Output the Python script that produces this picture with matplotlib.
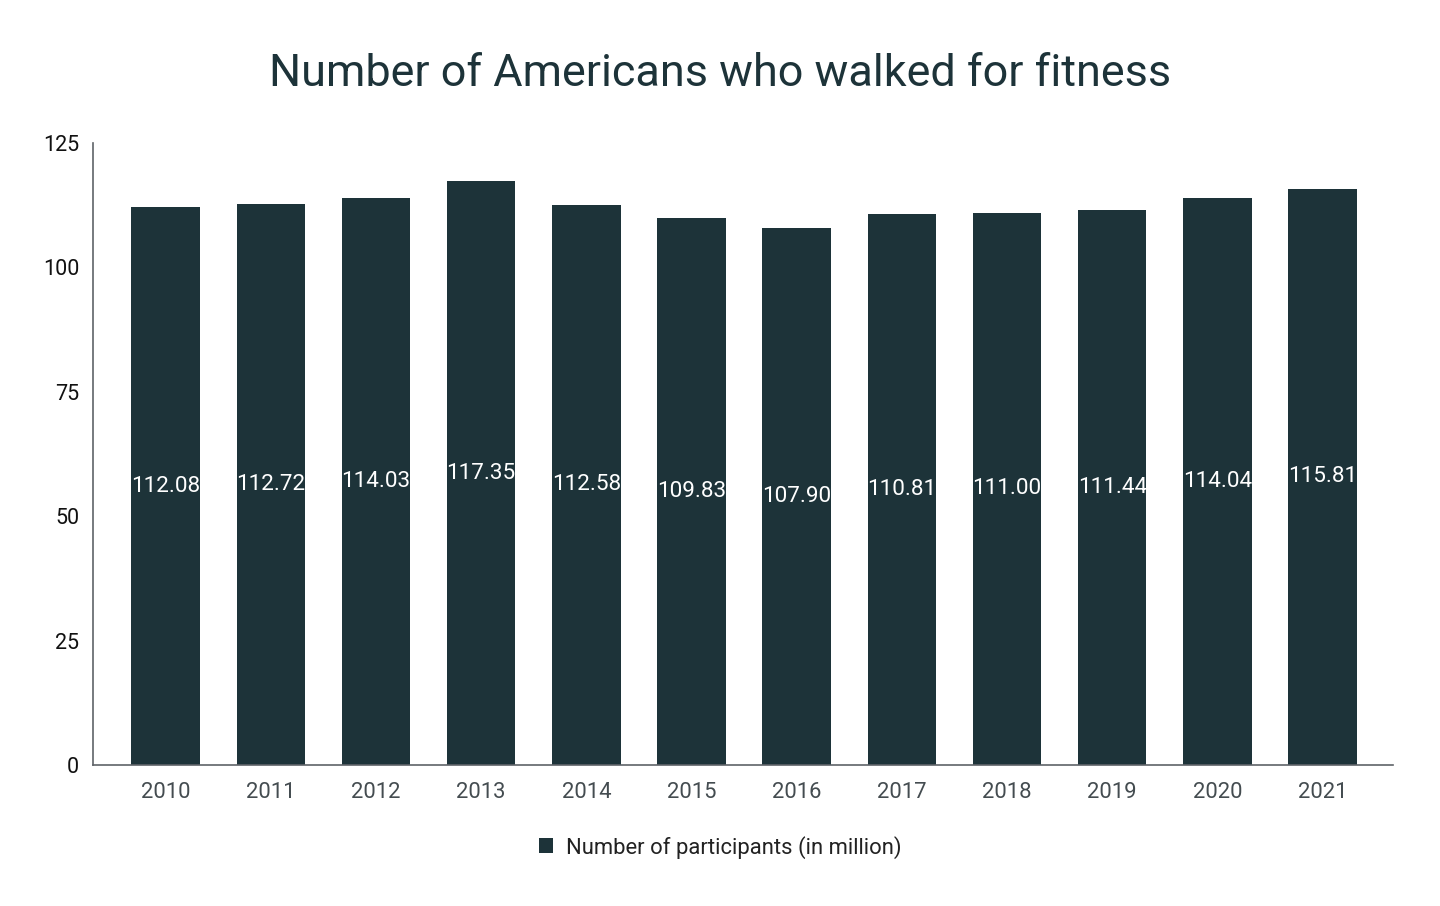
import numpy as np
import matplotlib
matplotlib.use('Agg')
import matplotlib.pyplot as plt

years = ['2010', '2011', '2012', '2013', '2014', '2015',
         '2016', '2017', '2018', '2019', '2020', '2021']
participants = [112.08, 112.72, 114.03, 117.35, 112.58, 109.83,
                107.90, 110.81, 111.00, 111.44, 114.04, 115.81]
yticks = [0, 25, 50, 75, 100, 125]

bar_color = '#1d3339'

plt.rcParams['font.family'] = ['Roboto', 'DejaVu Sans']

def main():
    fig = plt.figure(figsize=(14.4, 9.06), dpi=100)
    ax = fig.add_axes([0.0646, 0.1556, 0.9028, 0.6866])

    x = np.arange(len(years))
    bars = ax.bar(x, participants, width=0.65, color=bar_color,
                  label='Number of participants (in million)', zorder=2)

    # 値ラベルはバーの中央に置く
    for rect, v in zip(bars, participants):
        ax.text(rect.get_x() + rect.get_width() / 2, v / 2, '%.2f' % v,
                ha='center', va='center', color='white', fontsize=16.2)

    ax.set_xlim(-0.69, len(years) - 1 + 0.67)
    ax.set_ylim(0, 125)
    ax.set_yticks(yticks)
    ax.set_xticks(x)
    ax.set_xticklabels(years)

    for side in ['top', 'right']:
        ax.spines[side].set_visible(False)
    for side in ['left', 'bottom']:
        ax.spines[side].set_color('#5f6368')
        ax.spines[side].set_linewidth(1.2)

    ax.tick_params(axis='y', length=0, pad=10, labelsize=15.5, labelcolor='#111111')
    ax.tick_params(axis='x', length=0, pad=12, labelsize=15.8, labelcolor='#444c50')

    fig.suptitle('Number of Americans who walked for fitness', x=0.5, y=0.941,
                 fontsize=32.4, color=bar_color)

    fig.legend(loc='center', bbox_to_anchor=(0.5, 0.065), frameon=False,
               fontsize=15.8, handlelength=0.65, handleheight=0.65, handletextpad=0.6,
               labelcolor='#222222')

    fig.savefig('out.png', dpi=100, facecolor='white')

if __name__ == '__main__':
    main()
